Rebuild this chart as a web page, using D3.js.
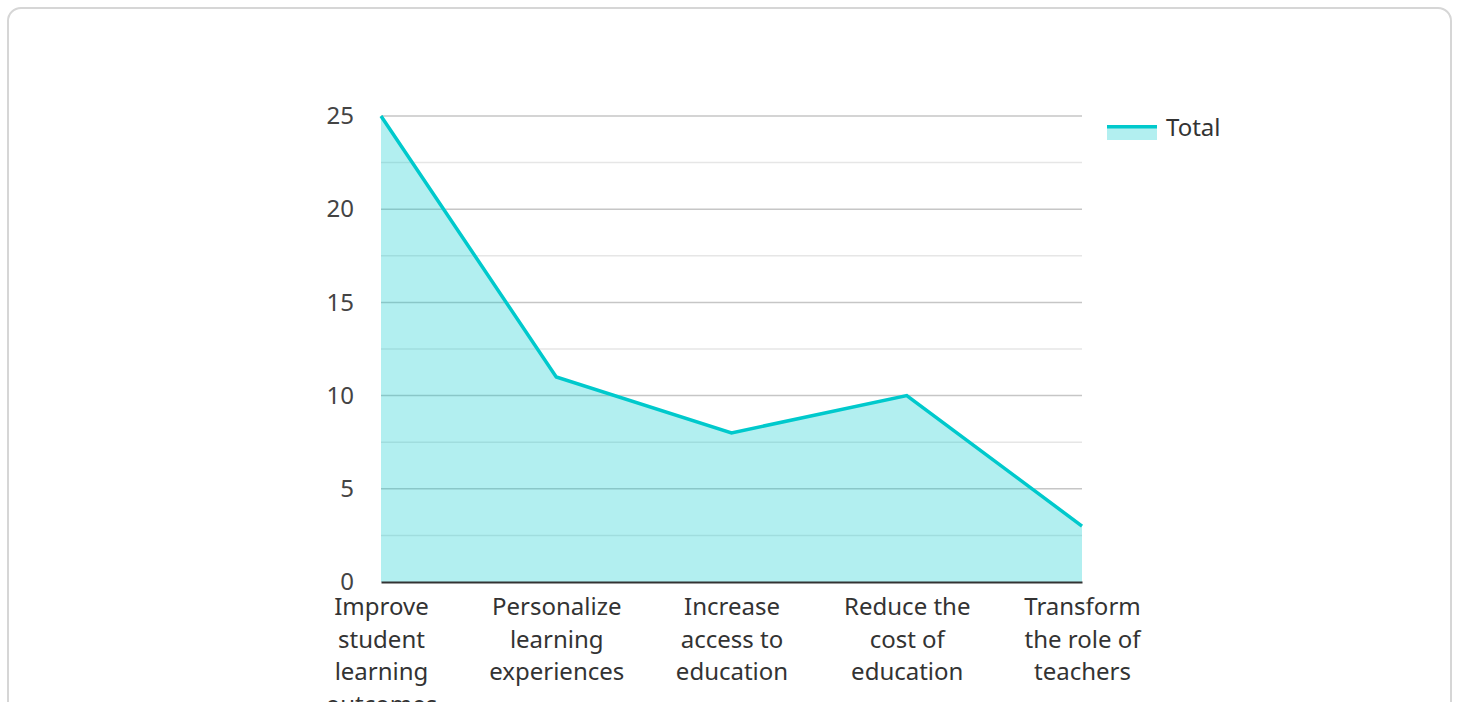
<!DOCTYPE html>
<html>
<head>
<meta charset="utf-8">
<script src="https://cdn.jsdelivr.net/npm/d3@7"></script>
<style>
	body { margin: 0; background: #fff; font-family: 'Noto Sans', sans-serif; overflow: hidden; }
	#card {
		position: absolute; left: 7px; top: 7px; width: 1445px; height: 760px;
		border: 2px solid #d6d6d6; border-radius: 14px; box-sizing: border-box;
	}
	#chart-svg { position: absolute; left: 0; top: 0; }
</style>
</head>
<body>
<div id="card"></div>
<svg id="chart-svg" width="1458" height="702"></svg>
<script>
// values
const categories = [
	'Improve student learning outcomes',
	'Personalize learning experiences',
	'Increase access to education',
	'Reduce the cost of education',
	'Transform the role of teachers'
];
const totals = [25, 11, 8, 10, 3];
const yTicks = [0, 5, 10, 15, 20, 25];
const yMinorTicks = [2.5, 7.5, 12.5, 17.5, 22.5];
const seriesName = 'Total';

const LINE_COLOR = '#00c9cc';
const FILL_COLOR = 'rgba(0, 201, 204, 0.3)';
const FONT = "'Noto Sans', sans-serif";

const margin = { left: 381, right: 376, top: 116, bottom: 120 };
const svg = d3.select('#chart-svg');
const width = 1458 - margin.left - margin.right;
const height = 702 - margin.top - margin.bottom;

const x = d3.scalePoint().domain(categories).range([0, width]);
const y = d3.scaleLinear().domain([0, 25]).range([height, 0]);

let g = svg.append('g').attr('transform', `translate(${margin.left}, ${margin.top})`);

// minor and major gridlines (under the translucent area)
g.selectAll('line.minor')
	.data(yMinorTicks)
	.enter()
	.append('line')
	.attr('class', 'minor')
	.attr('x1', 0)
	.attr('x2', width)
	.attr('y1', (d) => y(d))
	.attr('y2', (d) => y(d))
	.attr('stroke', '#e6e6e6')
	.attr('stroke-width', 1.5);
g.selectAll('line.major')
	.data(yTicks.filter((d) => d > 0))
	.enter()
	.append('line')
	.attr('class', 'major')
	.attr('x1', 0)
	.attr('x2', width)
	.attr('y1', (d) => y(d))
	.attr('y2', (d) => y(d))
	.attr('stroke', '#c6c6c6')
	.attr('stroke-width', 1.5);

// area + line
const points = categories.map((c, i) => ({ c: c, v: totals[i] }));
const area = d3.area().x((d) => x(d.c)).y0(y(0)).y1((d) => y(d.v));
const line = d3.line().x((d) => x(d.c)).y((d) => y(d.v));

g.append('path').datum(points).attr('d', area).attr('fill', FILL_COLOR);
g.append('path')
	.datum(points)
	.attr('d', line)
	.attr('fill', 'none')
	.attr('stroke', LINE_COLOR)
	.attr('stroke-width', 3.5)
	.attr('stroke-linejoin', 'miter');

// y axis labels
const yAxis = d3.axisLeft(y).tickValues(yTicks).tickSize(0).tickPadding(27);
let yG = g.append('g').call(yAxis);
yG.select('.domain').remove();
yG.selectAll('text')
	.attr('font-family', FONT)
	.attr('font-size', 24)
	.attr('fill', '#444');

// x axis
const xAxis = d3.axisBottom(x).tickSize(0).tickPadding(0);
let xG = g.append('g').attr('transform', `translate(0, ${height})`).call(xAxis);
xG.select('.domain').attr('stroke', '#333').attr('stroke-width', 2);
xG.selectAll('text')
	.attr('dy', null)
	.attr('font-family', FONT)
	.attr('font-size', 24)
	.attr('fill', '#333')
	.call(wrap, 145);

function wrap(texts, maxWidth) {
	texts.each(function() {
		let text = d3.select(this);
		let words = text.text().split(/\s+/);
		text.text(null);
		let lines = [];
		let current = [];
		let tspan = text.append('tspan');
		words.forEach((w) => {
			current.push(w);
			tspan.text(current.join(' '));
			if (tspan.node().getComputedTextLength() > maxWidth && current.length > 1) {
				current.pop();
				lines.push(current.join(' '));
				current = [w];
			}
		});
		lines.push(current.join(' '));
		text.text(null);
		lines.forEach((l, i) => {
			text.append('tspan').attr('x', 0).attr('y', 33 + i * 32.5).text(l);
		});
	});
}

// legend
let legendG = svg.append('g').attr('transform', 'translate(1107, 125)');
legendG.append('rect').attr('x', 0).attr('y', 2).attr('width', 50).attr('height', 13).attr('fill', FILL_COLOR);
legendG.append('rect').attr('x', 0).attr('y', 0).attr('width', 50).attr('height', 3.5).attr('fill', LINE_COLOR);
legendG
	.append('text')
	.attr('x', 59)
	.attr('y', 11)
	.attr('font-family', FONT)
	.attr('font-size', 24)
	.attr('fill', '#333')
	.text(seriesName);
</script>
</body>
</html>
